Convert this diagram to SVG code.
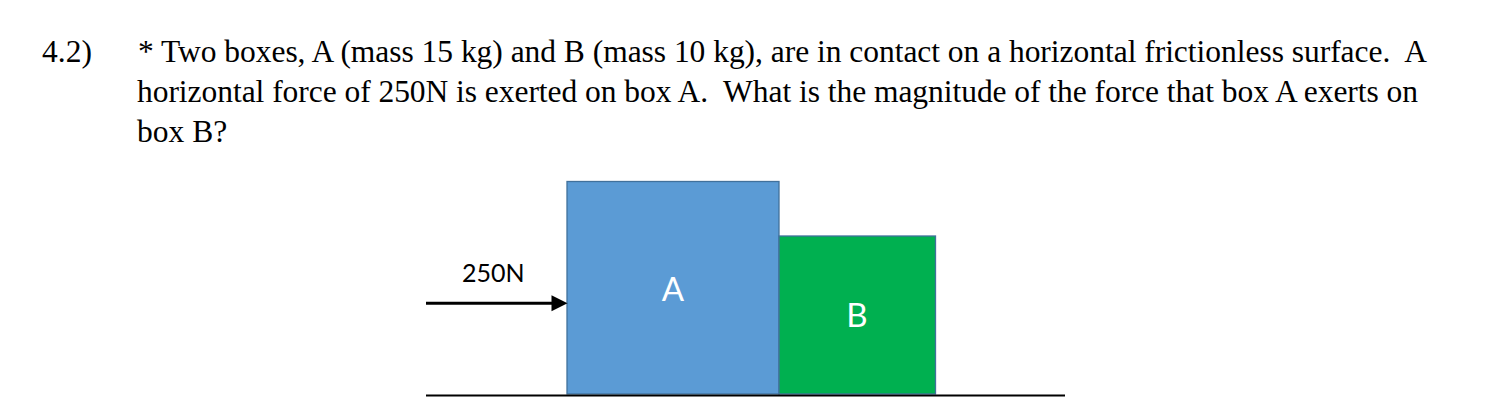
<svg xmlns="http://www.w3.org/2000/svg" width="1502" height="420" viewBox="0 0 1502 420">
<style>
.q{font-family:"Liberation Serif","Times New Roman",serif;font-size:31.5px;fill:#000;white-space:pre}
.lbl{font-family:Lato,"Open Sans",sans-serif;font-size:25px;fill:#000}
.box{font-family:Lato,"Open Sans",sans-serif;font-size:33px;fill:#fff;text-anchor:middle}
</style>
<rect width="1502" height="420" fill="#fff"/>
<g id="question">
<text class="q" x="42" y="62">4.2)</text>
<text class="q" x="138" y="62" xml:space="preserve" textLength="1289" lengthAdjust="spacing">* Two boxes, A (mass 15 kg) and B (mass 10 kg), are in contact on a horizontal frictionless surface.  A</text>
<text class="q" x="137" y="102" xml:space="preserve" textLength="1281" lengthAdjust="spacing">horizontal force of 250N is exerted on box A.  What is the magnitude of the force that box A exerts on</text>
<text class="q" x="137" y="142">box B?</text>
</g>
<g id="boxA">
<rect x="567" y="181.5" width="212" height="212.5" fill="#5B9BD5" stroke="#41719C" stroke-width="1.3"/>
<text class="box" x="673" y="301">A</text>
</g>
<g id="boxB">
<rect x="779" y="236" width="156.5" height="158" fill="#00B050" stroke="#41719C" stroke-width="1.3"/>
<text class="box" x="857" y="327">B</text>
</g>
<g id="connectors">
<line x1="426" y1="395.5" x2="1065" y2="395.5" stroke="#000" stroke-width="2.2"/>
<line x1="426" y1="303.3" x2="554" y2="303.3" stroke="#000" stroke-width="3"/>
<path d="M551.5,295.3 L567.5,303.3 L551.5,311.3 z" fill="#000"/>
<text class="lbl" x="462" y="282">250N</text>
</g>
</svg>
